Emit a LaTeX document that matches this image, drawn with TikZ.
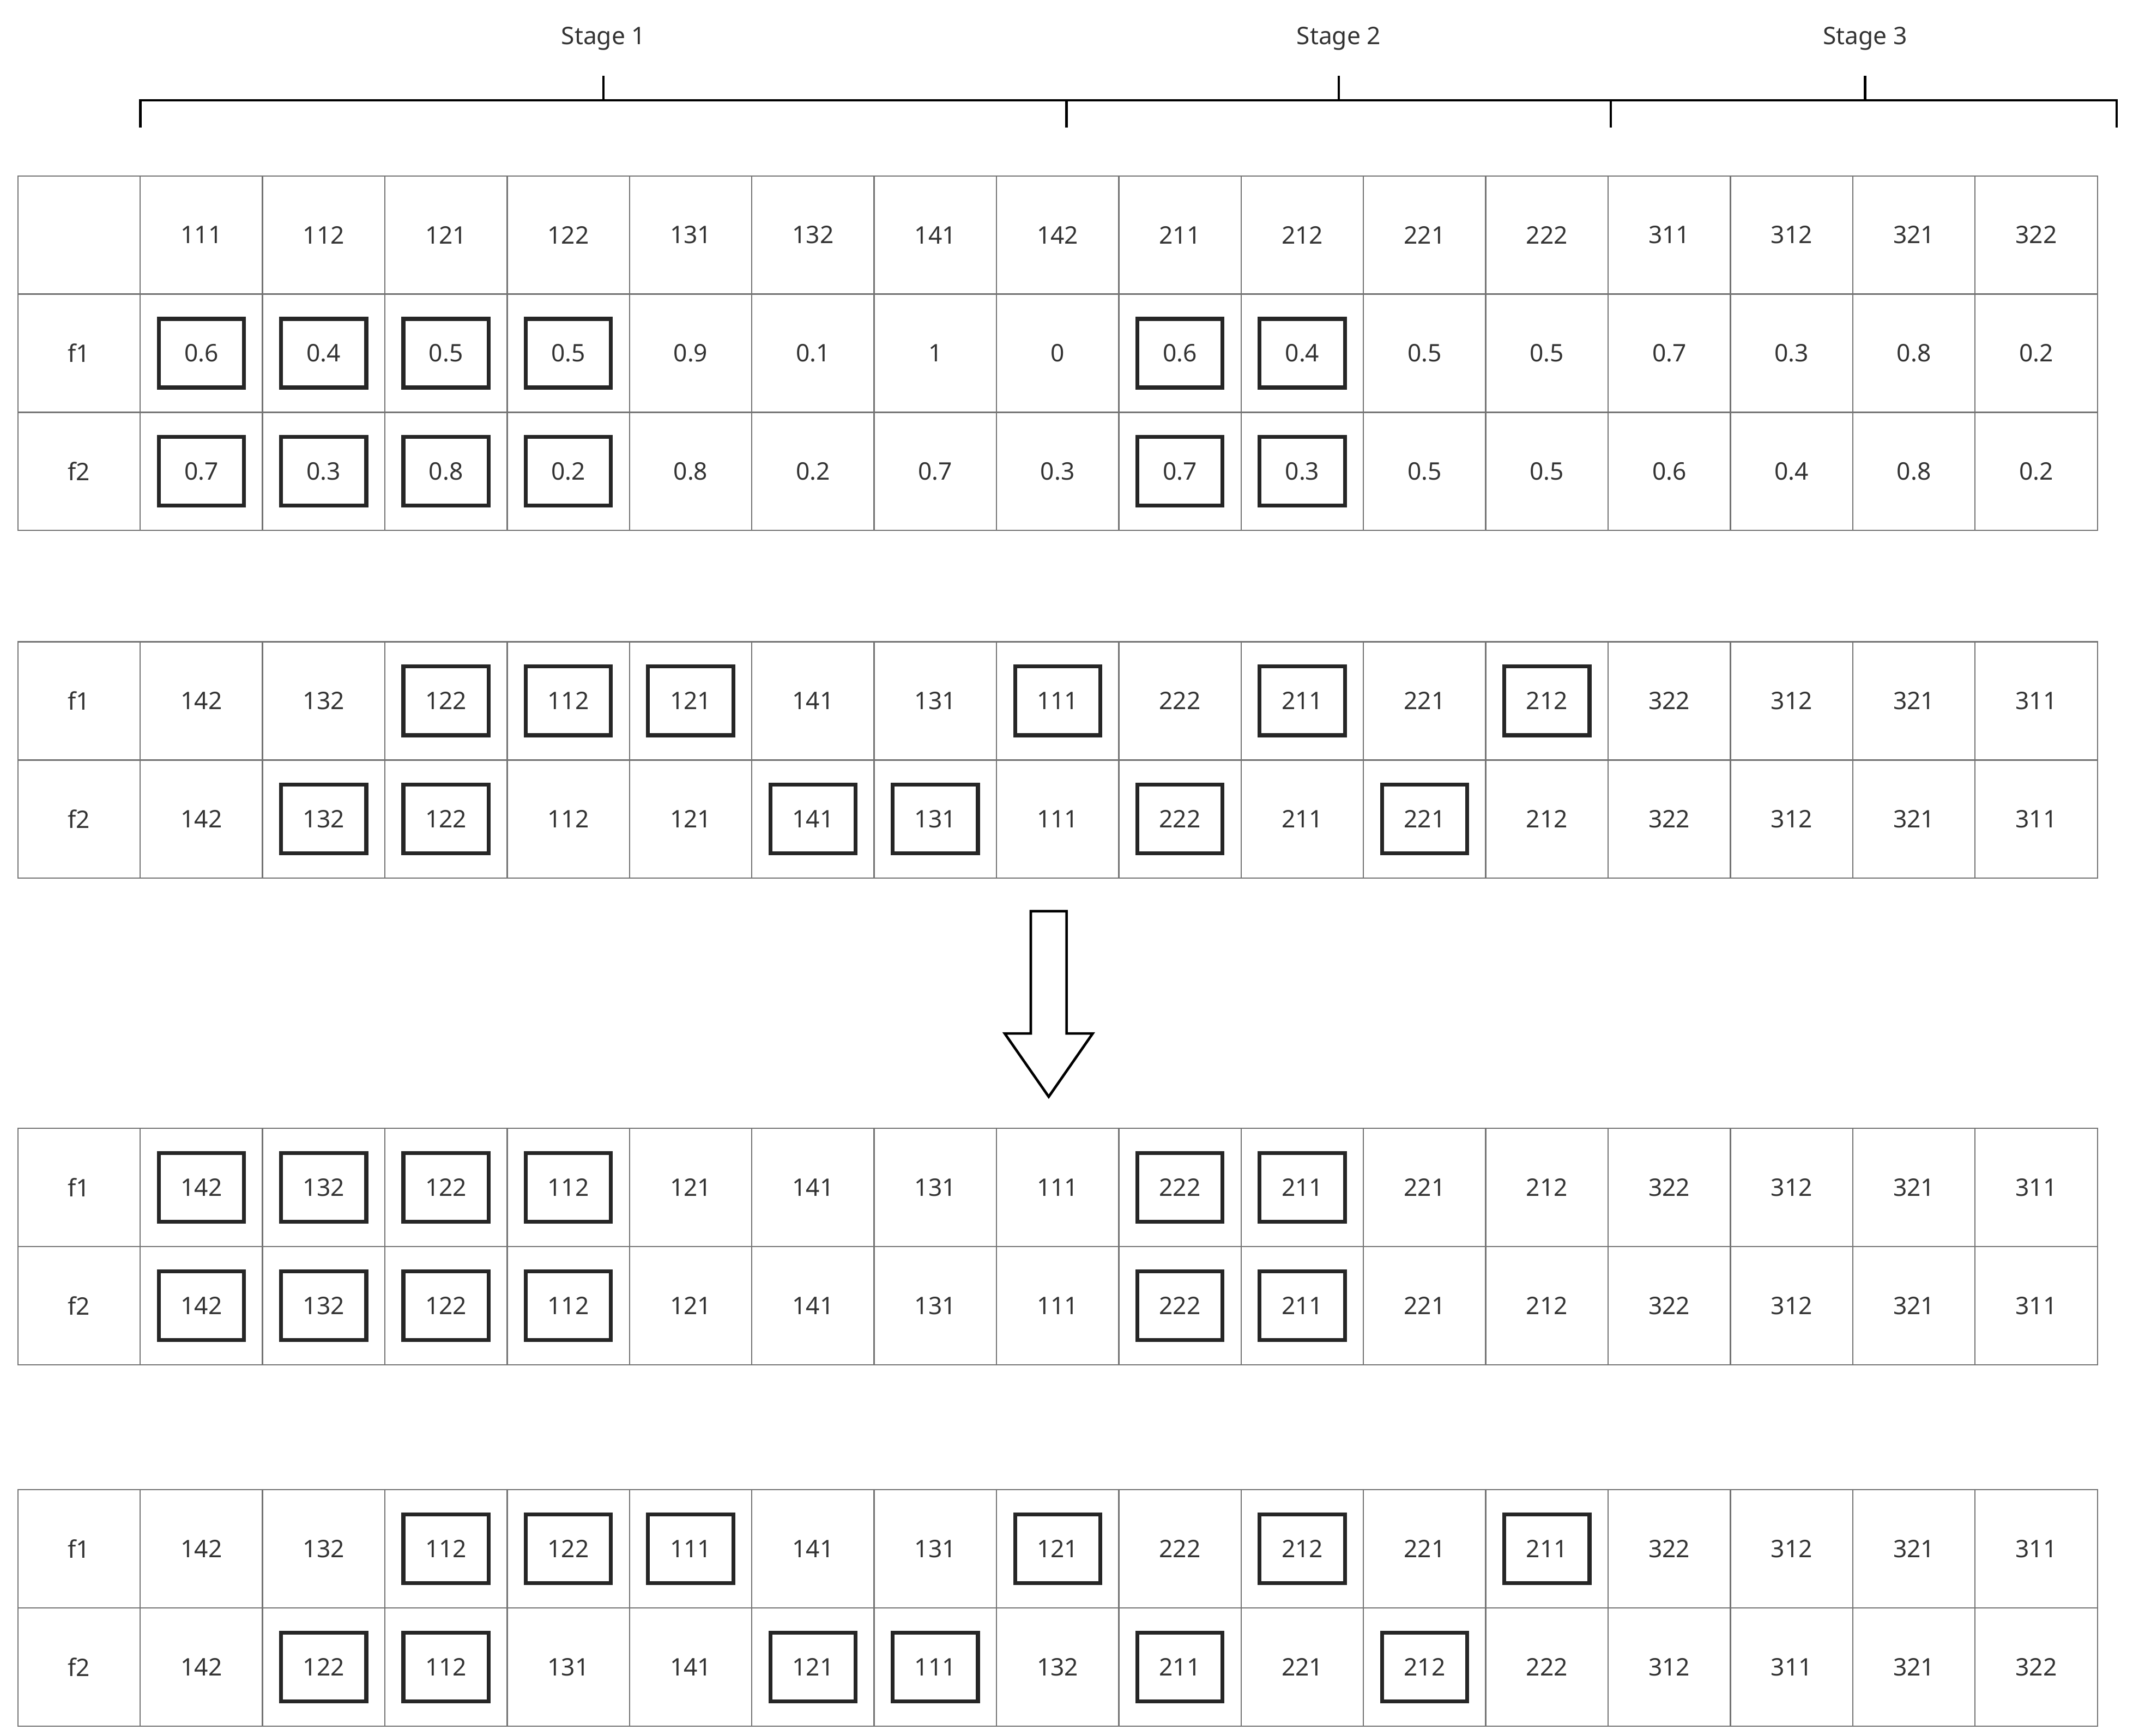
\documentclass[tikz,border=0pt]{standalone}
\usepackage{fontspec}
\setmainfont{Noto Sans}
\begin{document}
\begin{tikzpicture}[x=0.03cm,y=-0.03cm,
  cell/.style={draw=black!55,line width=0.8pt,minimum width=2.67cm,minimum height=2.58cm,inner sep=0pt,font=\fontsize{15}{18}\selectfont\color{black!80}},
  inbox/.style={draw=black!85,line width=2.4pt,minimum width=1.86cm,minimum height=1.5cm,inner sep=0pt},
  brk/.style={line width=1.6pt,black}]
\useasboundingbox (0,0) rectangle (1565,1263);
% brackets
\coordinate (b0) at (102,73); \coordinate (b1) at (776,73); \coordinate (b2) at (1172,73); \coordinate (b3) at (1540,73);
\draw[brk] (102,93) -- (b0) -- (b3) -- (1540,93);
\draw[brk] (b1) -- (776,93); \draw[brk] (b2) -- (1172,93);
\draw[brk] (439,73) -- (439,55); \draw[brk] (974,73) -- (974,55); \draw[brk] (1357,73) -- (1357,55);
\foreach \x/\t [count=\k] in {439/Stage 1,974/Stage 2,1357/Stage 3}
  \node[font=\fontsize{15}{18}\selectfont\color{black!80}] (st\k) at (\x,28) {\t};
% row macro
\newcommand{\myrow}[4]{% name, y, label, list
  \node[cell] (#1c0) at (57.5,#2) {#3};
  \foreach \v/\b [count=\i] in {#4} {
    \node[cell] (#1c\i) at ({13+89*\i+44.5},#2) {\v};
    \ifnum\b=1 \node[inbox] (#1b\i) at ({13+89*\i+44.5},#2) {};\fi
  }}
\myrow{ah}{171}{}{111/0,112/0,121/0,122/0,131/0,132/0,141/0,142/0,211/0,212/0,221/0,222/0,311/0,312/0,321/0,322/0}
\myrow{aa}{257}{f1}{0.6/1,0.4/1,0.5/1,0.5/1,0.9/0,0.1/0,1/0,0/0,0.6/1,0.4/1,0.5/0,0.5/0,0.7/0,0.3/0,0.8/0,0.2/0}
\myrow{ab}{343}{f2}{0.7/1,0.3/1,0.8/1,0.2/1,0.8/0,0.2/0,0.7/0,0.3/0,0.7/1,0.3/1,0.5/0,0.5/0,0.6/0,0.4/0,0.8/0,0.2/0}
\myrow{ba}{510}{f1}{142/0,132/0,122/1,112/1,121/1,141/0,131/0,111/1,222/0,211/1,221/0,212/1,322/0,312/0,321/0,311/0}
\myrow{bb}{596}{f2}{142/0,132/1,122/1,112/0,121/0,141/1,131/1,111/0,222/1,211/0,221/1,212/0,322/0,312/0,321/0,311/0}
\myrow{ca}{864}{f1}{142/1,132/1,122/1,112/1,121/0,141/0,131/0,111/0,222/1,211/1,221/0,212/0,322/0,312/0,321/0,311/0}
\myrow{cb}{950}{f2}{142/1,132/1,122/1,112/1,121/0,141/0,131/0,111/0,222/1,211/1,221/0,212/0,322/0,312/0,321/0,311/0}
\myrow{da}{1127}{f1}{142/0,132/0,112/1,122/1,111/1,141/0,131/0,121/1,222/0,212/1,221/0,211/1,322/0,312/0,321/0,311/0}
\myrow{db}{1213}{f2}{142/0,122/1,112/1,131/0,141/0,121/1,111/1,132/0,211/1,221/0,212/1,222/0,312/0,311/0,321/0,322/0}
% arrow
\draw[line width=1.6pt,fill=white] (750,663) -- (776,663) -- (776,752) -- (795,752) -- (763,798) -- (731,752) -- (750,752) -- cycle;
\end{tikzpicture}
\end{document}
